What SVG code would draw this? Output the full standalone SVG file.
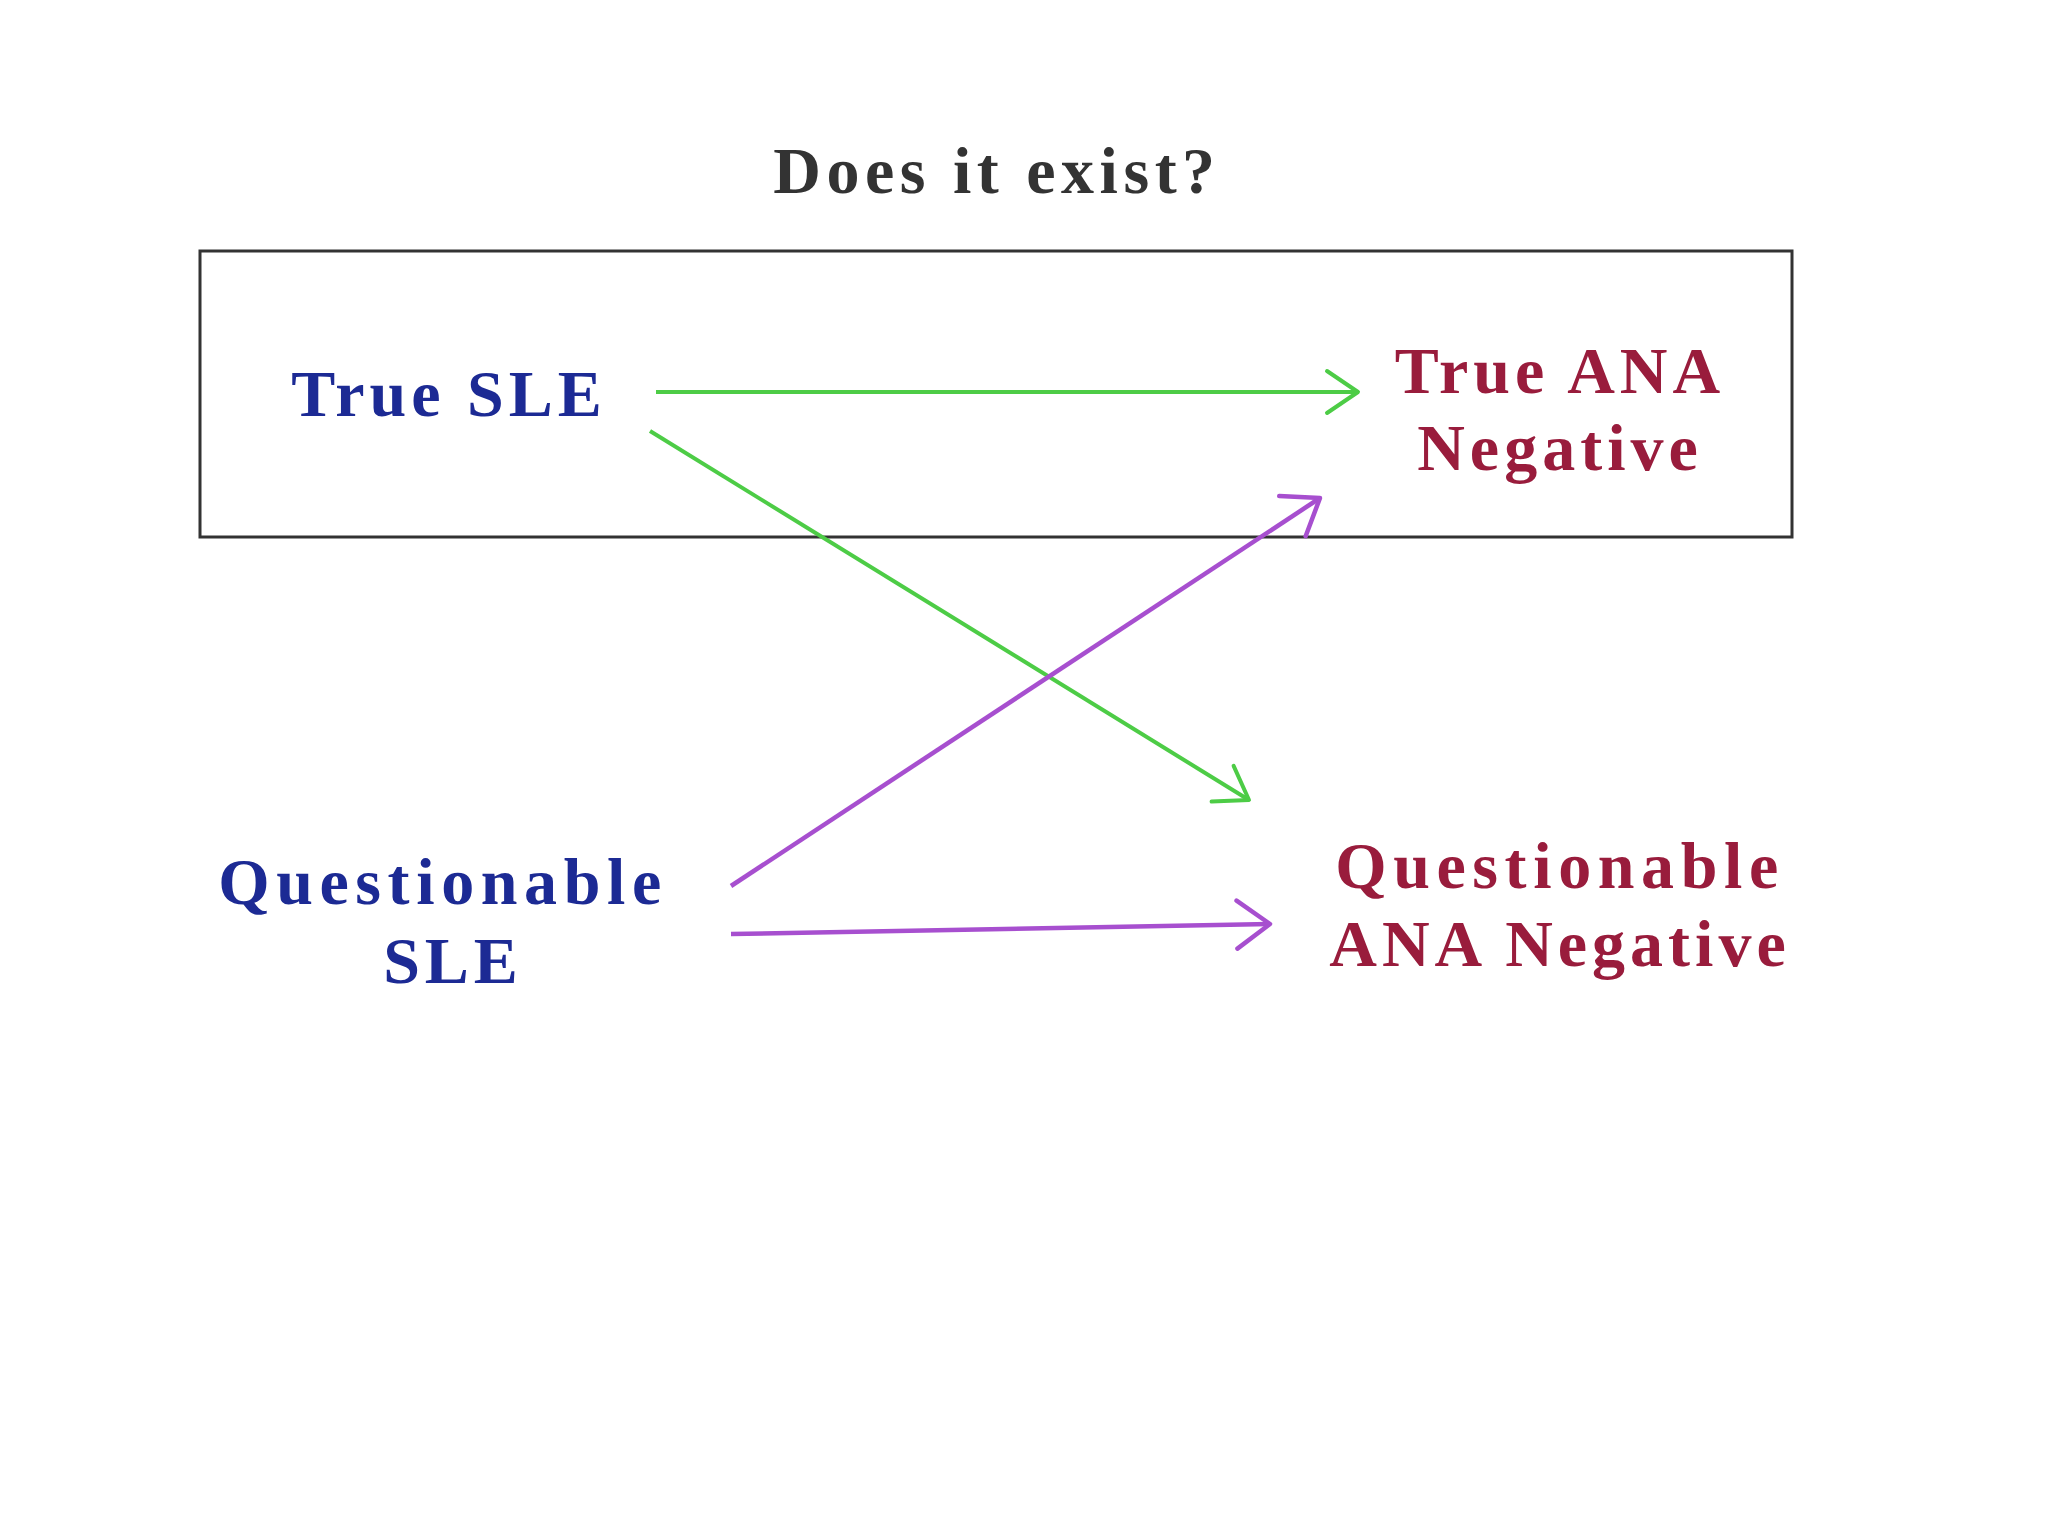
<svg xmlns="http://www.w3.org/2000/svg" width="2048" height="1536" viewBox="0 0 2048 1536">
  <style>
    .title { font-family: "Liberation Serif", "Times New Roman", serif; font-weight: bold; font-size: 66px; fill: #333333; letter-spacing: 5.5px; }
    .src { font-family: "Liberation Serif", "Times New Roman", serif; font-weight: bold; font-size: 66px; fill: #1c2a94; letter-spacing: 5px; }
    .dst { font-family: "Liberation Serif", "Times New Roman", serif; font-weight: bold; font-size: 66px; fill: #991c3c; letter-spacing: 5px; }
    .wide { letter-spacing: 6.6px; }
    .g { stroke: #4dcc46; stroke-width: 4; fill: none; }
    .p { stroke: #a74fcf; stroke-width: 4.5; fill: none; }
  </style>
  <defs>
    <marker id="ag" markerUnits="userSpaceOnUse" viewBox="-40 -30 50 60" refX="0" refY="0" markerWidth="50" markerHeight="60" orient="auto">
      <path d="M-31,-21 L0,0 L-31,21" fill="none" stroke="#4dcc46" stroke-width="4" stroke-linecap="round" stroke-linejoin="round"/>
    </marker>
    <marker id="ap" markerUnits="userSpaceOnUse" viewBox="-40 -30 50 60" refX="0" refY="0" markerWidth="50" markerHeight="60" orient="auto">
      <path d="M-33,-24 L0,0 L-33,24" fill="none" stroke="#a74fcf" stroke-width="4.5" stroke-linecap="round" stroke-linejoin="round"/>
    </marker>
  </defs>
  <rect width="2048" height="1536" fill="#ffffff"/>
  <text class="title" x="997" y="193" text-anchor="middle">Does it exist?</text>
  <rect id="frame" x="200" y="251" width="1592" height="286" fill="none" stroke="#333333" stroke-width="3"/>
  <g id="connectors">
    <line class="g" x1="656" y1="392" x2="1358" y2="392" marker-end="url(#ag)"/>
    <line class="g" x1="650" y1="431" x2="1249" y2="800" marker-end="url(#ag)"/>
    <line class="p" x1="731" y1="886" x2="1320" y2="498" marker-end="url(#ap)"/>
    <line class="p" x1="731" y1="934" x2="1270" y2="924" marker-end="url(#ap)"/>
  </g>
  <g id="true-sle">
    <text class="src" x="449" y="416" text-anchor="middle">True SLE</text>
  </g>
  <g id="questionable-sle">
    <text class="src wide" x="443" y="904" text-anchor="middle">Questionable</text>
    <text class="src" x="453" y="983" text-anchor="middle">SLE</text>
  </g>
  <g id="true-ana-negative">
    <text class="dst" x="1560" y="393" text-anchor="middle">True ANA</text>
    <text class="dst" x="1560" y="470" text-anchor="middle">Negative</text>
  </g>
  <g id="questionable-ana-negative">
    <text class="dst wide" x="1560" y="888" text-anchor="middle">Questionable</text>
    <text class="dst" x="1560" y="966" text-anchor="middle">ANA Negative</text>
  </g>
</svg>
